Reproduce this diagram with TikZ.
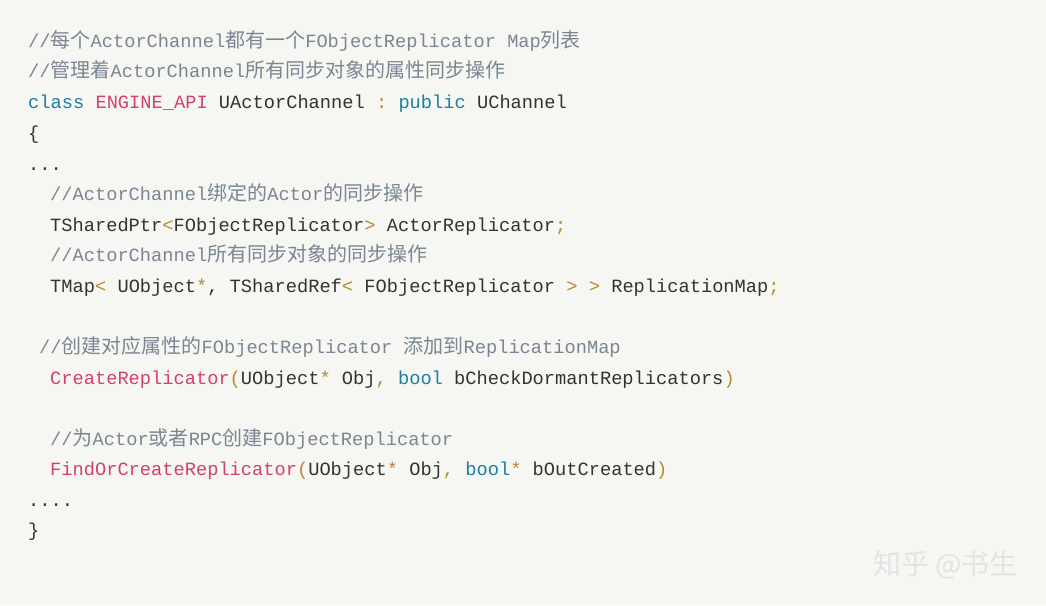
\documentclass[tikz,border=0pt]{standalone}
\usepackage{fontspec}
\setmonofont{Liberation Mono}
\newfontfamily\cjk{Noto Sans CJK SC}
\definecolor{bg}{HTML}{F6F6F3}
\definecolor{cmt}{HTML}{7A8793}
\definecolor{kw}{HTML}{1C7FA3}
\definecolor{rd}{HTML}{D2416E}
\definecolor{pn}{HTML}{B8892E}
\definecolor{tx}{HTML}{333333}
\newcommand\Z[1]{{\cjk\fontsize{20}{20}\selectfont #1}}
\newcommand\Kw[1]{\textcolor{kw}{#1}}
\newcommand\Rd[1]{\textcolor{rd}{#1}}
\newcommand\Pn[1]{\textcolor{pn}{#1}}
\tikzset{codeline/.style={anchor=base west,inner sep=0pt,text=tx,font=\ttfamily\fontsize{18.7}{20}\selectfont},
cmtline/.style={codeline,text=cmt}}
\begin{document}
\begin{tikzpicture}[x=1pt,y=-1pt]
\fill[bg] (0,0) rectangle (1046,605);
\useasboundingbox (0,0) rectangle (1046,605);
\node[cmtline] (l1) at (28,47) {//\Z{每个}ActorChannel\Z{都有一个}FObjectReplicator Map\Z{列表}};
\node[cmtline] (l2) at (28,77) {//\Z{管理着}ActorChannel\Z{所有同步对象的属性同步操作}};
\node[codeline] (l3) at (28,108) {\Kw{class} \Rd{ENGINE\_API} UActorChannel \Pn{:} \Kw{public} UChannel};
\node[codeline] (l4) at (28,139) {\{};
\node[codeline] (l5) at (28,170) {...};
\node[cmtline] (l6) at (50,200) {//ActorChannel\Z{绑定的}Actor\Z{的同步操作}};
\node[codeline] (l7) at (50,231) {TSharedPtr\Pn{<}FObjectReplicator\Pn{>} ActorReplicator\Pn{;}};
\node[cmtline] (l8) at (50,261) {//ActorChannel\Z{所有同步对象的同步操作}};
\node[codeline] (l9) at (50,292) {TMap\Pn{<} UObject\Pn{*}, TSharedRef\Pn{<} FObjectReplicator \Pn{>} \Pn{>} ReplicationMap\Pn{;}};
\node[cmtline] (l10) at (39,353) {//\Z{创建对应属性的}FObjectReplicator \Z{添加到}ReplicationMap};
\node[codeline] (l11) at (50,384) {\Rd{CreateReplicator}\Pn{(}UObject\Pn{*} Obj\Pn{,} \Kw{bool} bCheckDormantReplicators\Pn{)}};
\node[cmtline] (l12) at (50,445) {//\Z{为}Actor\Z{或者}RPC\Z{创建}FObjectReplicator};
\node[codeline] (l13) at (50,475) {\Rd{FindOrCreateReplicator}\Pn{(}UObject\Pn{*} Obj\Pn{,} \Kw{bool}\Pn{*} bOutCreated\Pn{)}};
\node[codeline] (l14) at (28,506) {....};
\node[codeline] (l15) at (28,536) {\}};
\node[anchor=base east,inner sep=0pt,text=white!78!gray,font=\cjk\fontsize{28}{30}\selectfont] (wm) at (1018,574) {知乎 @书生};
\end{tikzpicture}
\end{document}
